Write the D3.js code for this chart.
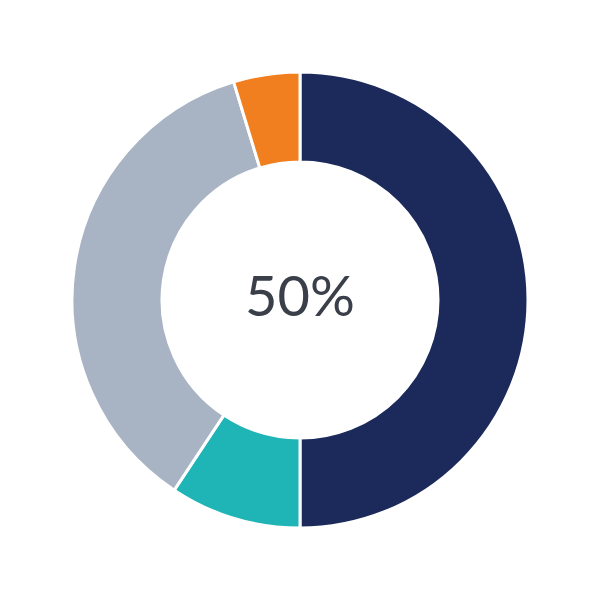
<!DOCTYPE html>
<html>
<head>
<meta charset="utf-8">
<script src="https://cdn.jsdelivr.net/npm/d3@7"></script>
<style>
  body { margin: 0; background: #fff; }
</style>
</head>
<body>
<svg id="chart"></svg>
<script>
  var labels = ["A", "B", "C", "D"];
  var values = [50, 9.3, 36, 4.7];
  var colors = ["#1c2a5b", "#1fb4b6", "#a8b3c3", "#f27f1f"];
  var centerLabel = "50%";

  var width = 600, height = 600,
    outerR = 228, innerR = 138;

  var svg = d3.select("#chart")
    .attr("width", width)
    .attr("height", height)
    .append("g")
    .attr("transform", "translate(300,300)");

  var data = labels.map((l, i) => ({label: l, value: values[i]}));

  var pie = d3.pie()
    .sort(null)
    .value(d => d.value);

  var arc = d3.arc()
    .innerRadius(innerR)
    .outerRadius(outerR);

  var color = d3.scaleOrdinal()
    .domain(labels)
    .range(colors);

  svg.selectAll("path")
    .data(pie(data))
    .enter()
    .append("path")
      .attr("d", arc)
      .attr("fill", d => color(d.data.label))
      .attr("stroke", "#fff")
      .attr("stroke-width", 3);

  // center label, baseline set by hand
  svg.append("text")
    .attr("x", 0)
    .attr("y", 16)
    .attr("text-anchor", "middle")
    .attr("font-family", "Lato, sans-serif")
    .attr("font-size", "56px")
    .attr("fill", "#3a3f4a")
    .text(centerLabel);
</script>
</body>
</html>
